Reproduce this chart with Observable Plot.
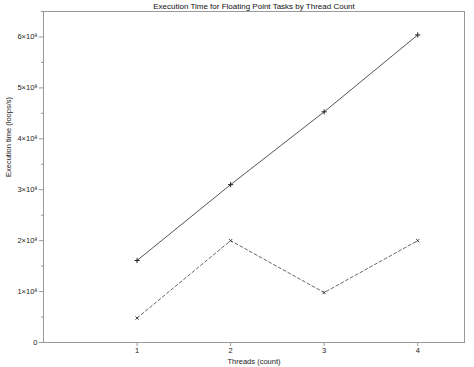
<!DOCTYPE html>
<html><head><meta charset="utf-8">
<script src="https://cdn.jsdelivr.net/npm/d3@7"></script>
<script src="https://cdn.jsdelivr.net/npm/@observablehq/plot@0.6"></script>
<style>body{margin:0;background:#fff}</style>
</head><body><div id="chart"></div>
<script>
const title = "Execution Time for Floating Point Tasks by Thread Count";
const threads = [1, 2, 3, 4];
const seriesA = [1.61e8, 3.10e8, 4.53e8, 6.04e8];
const seriesB = [0.48e8, 2.00e8, 0.98e8, 2.00e8];
const yTicks = [0, 1e8, 2e8, 3e8, 4e8, 5e8, 6e8];
const yTickLabels = ["0", "1×10⁸", "2×10⁸", "3×10⁸", "4×10⁸", "5×10⁸", "6×10⁸"];
const yMinor = [0.5e8, 1.5e8, 2.5e8, 3.5e8, 4.5e8, 5.5e8, 6.5e8];

const A = threads.map((t, i) => ({t, v: seriesA[i]}));
const B = threads.map((t, i) => ({t, v: seriesB[i]}));

const chart = Plot.plot({
  width: 474, height: 367,
  marginLeft: 43, marginRight: 10, marginTop: 11, marginBottom: 25,
  style: {fontFamily: "Liberation Sans, Arial, sans-serif", fontSize: "7.5px", color: "#222"},
  x: {domain: [0, 4.5]},
  y: {domain: [0, 6.5e8]},
  marks: [
    Plot.frame({stroke: "#999", strokeWidth: 1}),
    Plot.axisY({ticks: yMinor, tickSize: 2, tickFormat: () => "", stroke: "#999", label: null}),
    Plot.axisY({ticks: yTicks, tickSize: 4, tickPadding: 2, stroke: "#999",
      tickFormat: d => yTickLabels[yTicks.indexOf(d)], label: null}),
    Plot.axisX({ticks: threads, tickSize: 4, tickPadding: 1, stroke: "#999", tickFormat: d => String(d), label: null}),
    Plot.text([title], {frameAnchor: "top", dy: -5, lineAnchor: "middle", text: d => d, fontSize: 8, fill: "#111"}),
    Plot.text(["Threads (count)"], {frameAnchor: "bottom", dy: 19, lineAnchor: "middle", text: d => d, fontSize: 7.5, fill: "#222"}),
    Plot.text(["Execution time (loops/s)"], {frameAnchor: "left", dx: -35, rotate: -90, text: d => d, fontSize: 7.5, fill: "#222"}),
    Plot.line(A, {x: "t", y: "v", stroke: "#555", strokeWidth: 1}),
    Plot.line(B, {x: "t", y: "v", stroke: "#666", strokeWidth: 1, strokeDasharray: "3,2.5"}),
    Plot.dot(A, {x: "t", y: "v", symbol: "plus", r: 1.8, stroke: "#222", strokeWidth: 1}),
    Plot.dot(B, {x: "t", y: "v", symbol: "times", r: 1.6, stroke: "#333", strokeWidth: 0.9})
  ]
});
document.getElementById("chart").append(chart);
</script></body></html>
